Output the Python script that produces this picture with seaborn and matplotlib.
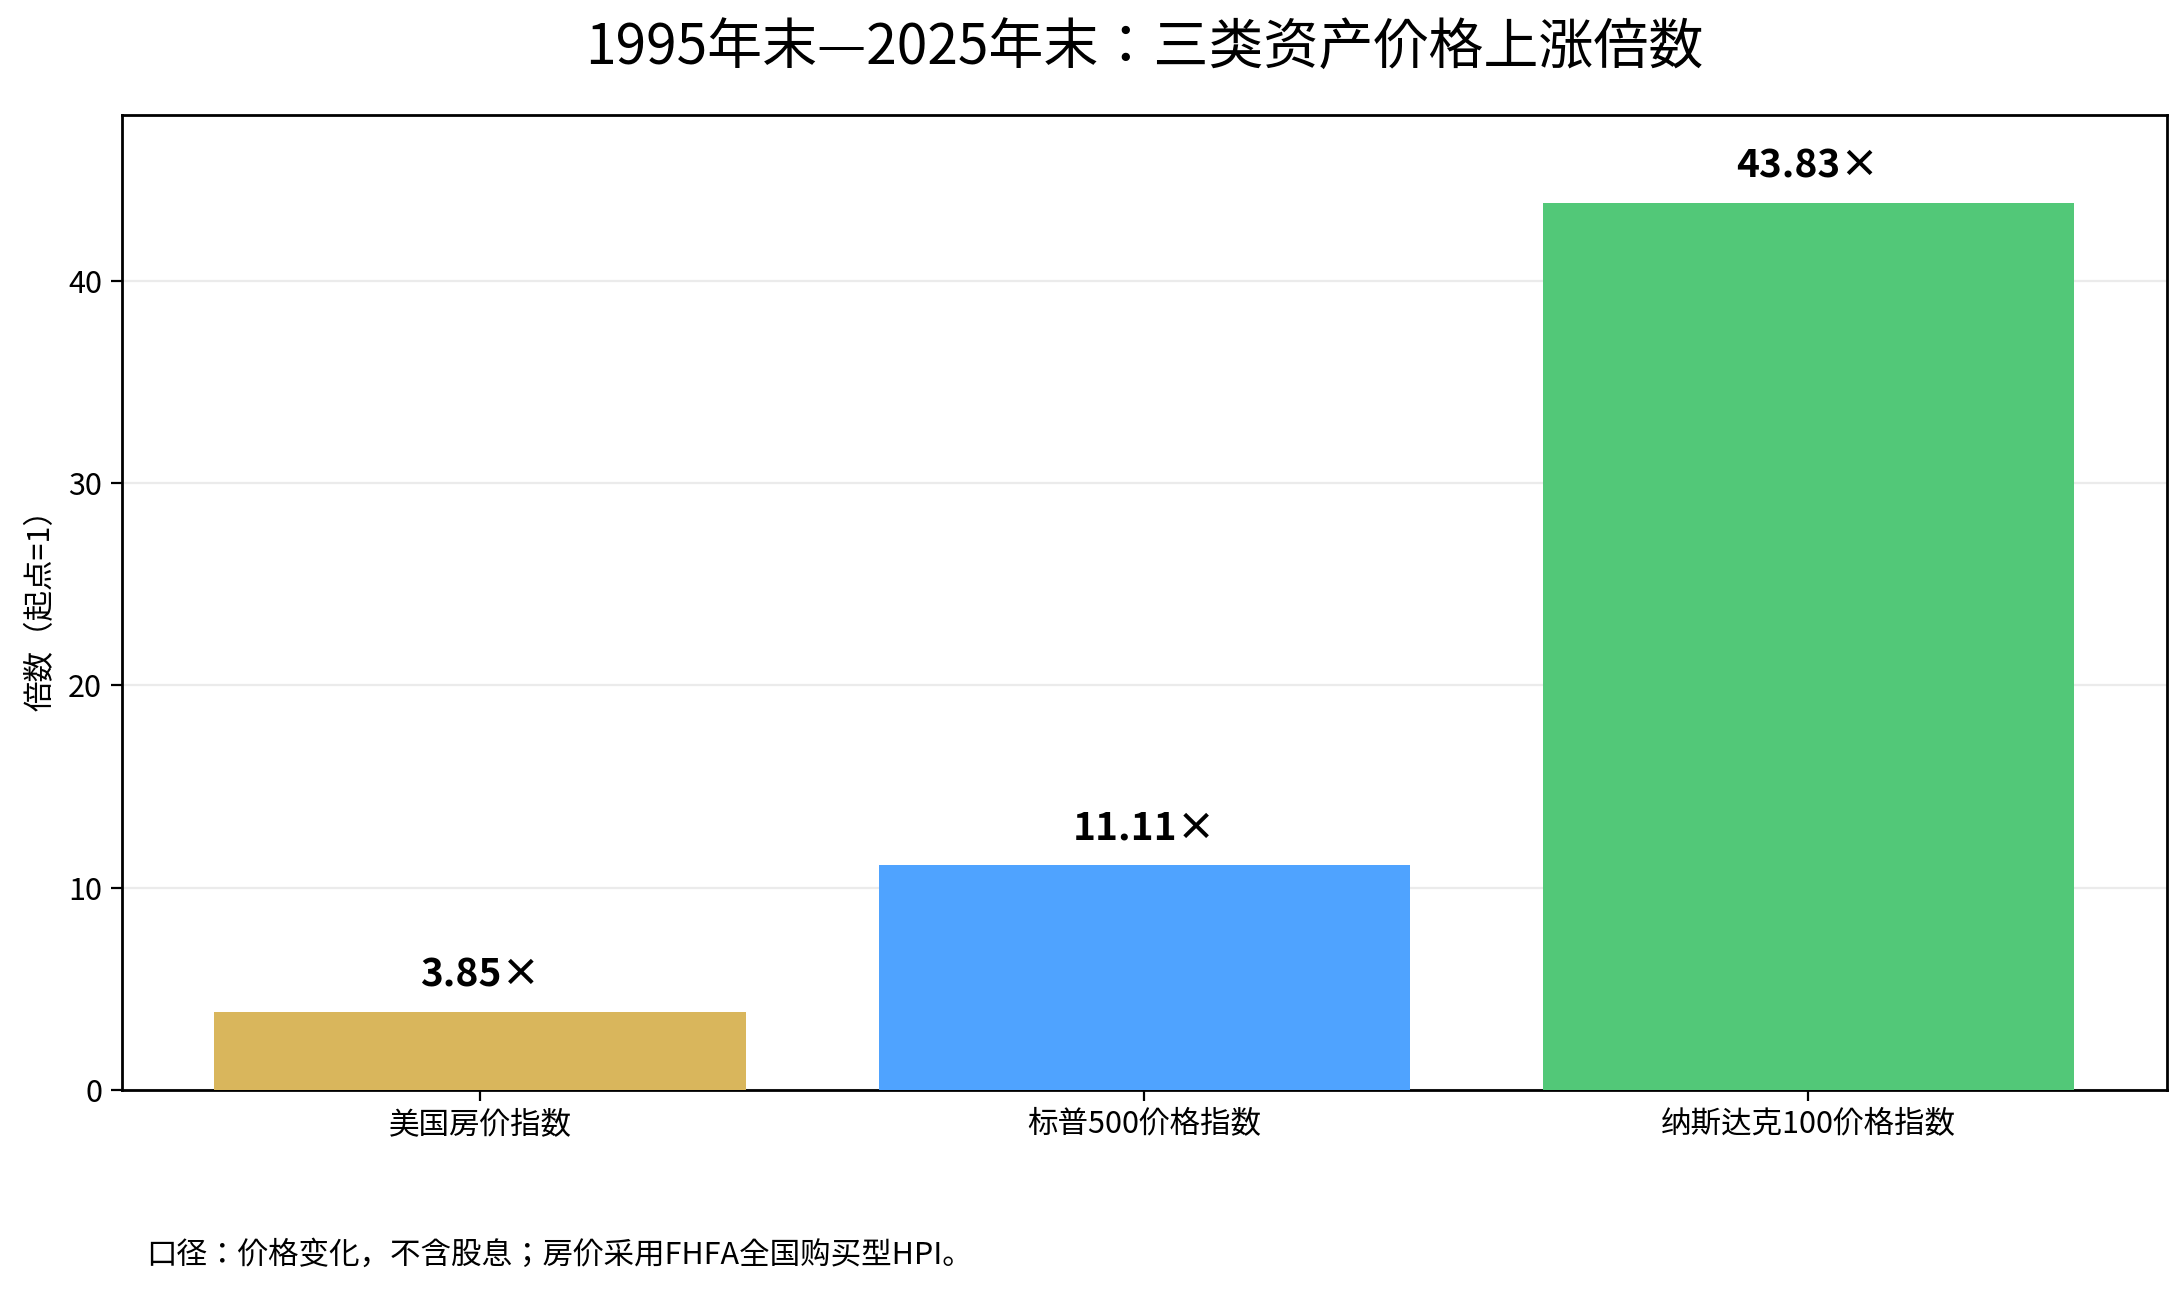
import matplotlib
matplotlib.use("Agg")
import matplotlib.pyplot as plt
import seaborn as sns
import pandas as pd

categories = ["美国房价指数", "标普500价格指数", "纳斯达克100价格指数"]
multiples = [3.85, 11.11, 43.83]
colors = ["#D9B65C", "#4FA3FF", "#52C878"]
title = "1995年末—2025年末：三类资产价格上涨倍数"
ylabel = "倍数（起点=1）"
note = "口径：价格变化，不含股息；房价采用FHFA全国购买型HPI。"

sns.set_theme(style="white")
plt.rcParams['font.family'] = ['Noto Sans CJK JP', 'DejaVu Sans']
plt.rcParams['axes.unicode_minus'] = False
plt.rcParams['text.color'] = 'black'
plt.rcParams['axes.labelcolor'] = 'black'

df = pd.DataFrame({"cat": categories, "val": multiples})

fig = plt.figure(figsize=(10.89, 6.45), dpi=200)
ax = fig.add_axes([0.0558, 0.155, 0.939, 0.756])
sns.barplot(data=df, x="cat", y="val", hue="cat", palette=colors, width=0.8,
            legend=False, ax=ax, saturation=1, zorder=3, linewidth=0)
ax.set_xlim(-0.54, 2.54)
ax.set_ylim(0, max(multiples) * 1.1)
ax.set_yticks([0, 10, 20, 30, 40])
ax.grid(axis="y", color="#e6e6e6", linewidth=0.8, alpha=0.8, zorder=0)
ax.set_axisbelow(True)
for s in ax.spines.values():
    s.set_color("black")
    s.set_linewidth(1.0)
ax.tick_params(axis="both", which="both", length=4, width=0.8, color="black",
               labelsize=11, bottom=True, left=True, labelcolor="black", pad=3)
ax.set_xlabel("")
ax.set_ylabel(ylabel, fontsize=11)

for i, v in enumerate(multiples):
    ax.text(i, v + max(multiples) * 0.02, f"{v:.2f}×", ha="center", va="bottom",
            fontsize=14, fontweight="bold", color="black")

ax.set_title(title, fontsize=19.8, pad=18, color="black")
fig.text(0.067, 0.027, note, fontsize=11, ha="left", va="center")

fig.savefig("out.png", dpi=200)
